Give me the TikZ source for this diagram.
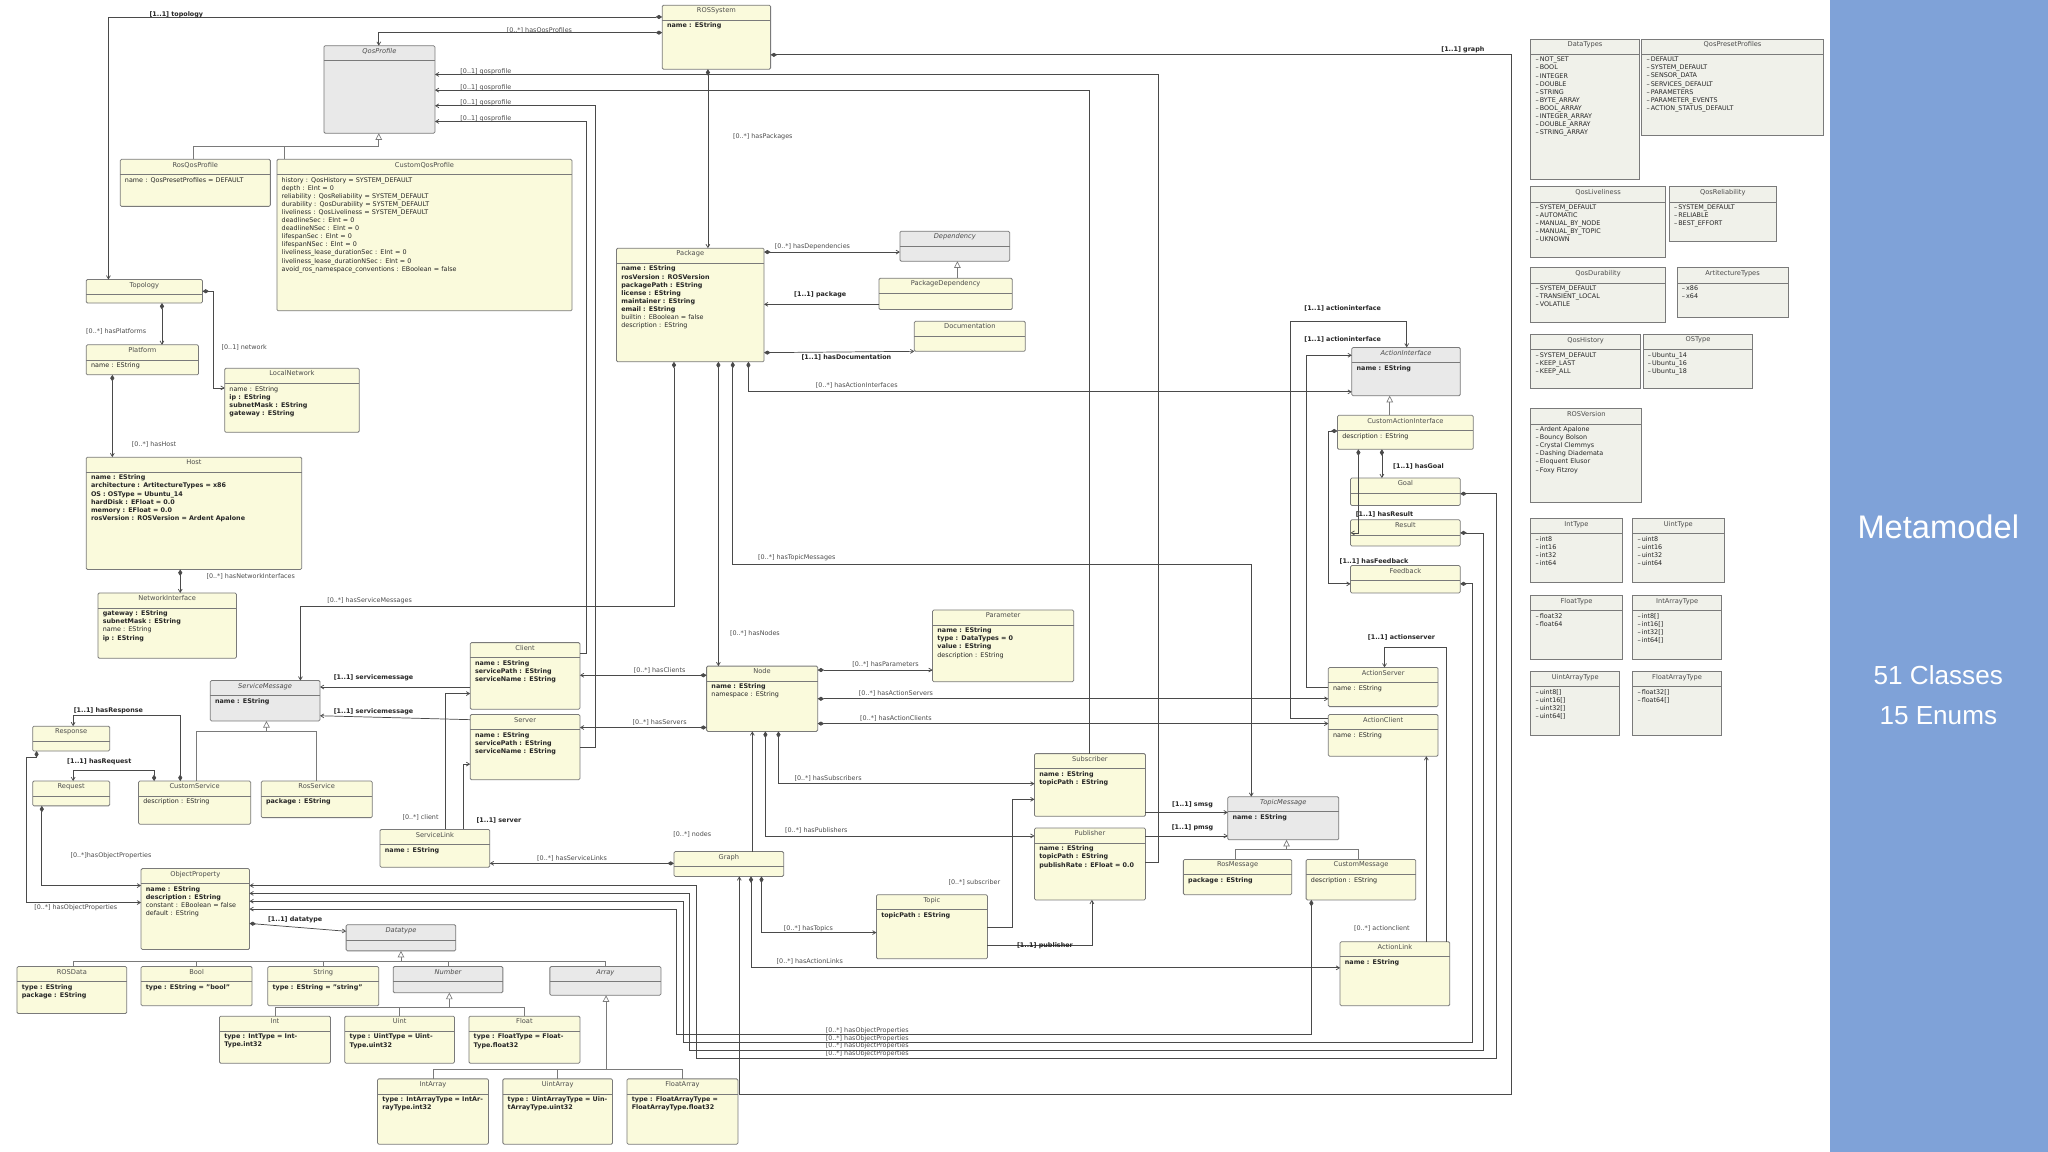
\documentclass[tikz,border=0pt]{standalone}
\usepackage{fontspec}
\setmainfont{DejaVu Sans}
\newfontfamily\panelfont{Liberation Sans}
\usetikzlibrary{arrows.meta}
\definecolor{boxfill}{HTML}{FAFADC}
\definecolor{absfill}{HTML}{E9E9E9}
\definecolor{enumfill}{HTML}{F0F1EA}
\definecolor{edge}{HTML}{7A7A7A}
\definecolor{wire}{HTML}{4A4A4A}
\definecolor{panel}{HTML}{7FA2D8}
\tikzset{
 cls/.style={draw=edge,fill=boxfill,rounded corners=1pt,line width=0.6pt,inner sep=0,outer sep=0},
 abs/.style={cls,fill=absfill},
 enm/.style={cls,fill=enumfill,rounded corners=0pt},
 hdr/.style={draw=edge,line width=0.4pt},
 ttl/.style={font=\fontsize{5.1}{6}\selectfont,text=black!70,inner sep=1.8pt},
 att/.style={font=\fontsize{4.9}{6.2}\selectfont,align=left,inner sep=0.5pt,text=black!85},
 w/.style={draw=wire,line width=0.55pt},
 comp/.style={w,{Diamond[length=5pt,width=3.2pt]}-{Straight Barb[length=2.5pt,width=3pt]}},
 ref/.style={w,-{Straight Barb[length=2.5pt,width=3pt]}},
 gen/.style={draw=edge,line width=0.5pt,-{Triangle[open,length=5pt,width=5pt,fill=white]}},
 genl/.style={draw=edge,line width=0.5pt},
 lbl/.style={font=\fontsize{4.9}{5.5}\selectfont,text=black!70,inner sep=0.5pt},
 lblb/.style={lbl,font=\fontsize{4.9}{5.5}\selectfont\bfseries,text=black!85},
}
\newcommand\clsbox[8][cls]{%
 \pgfmathsetmacro\bw{#5-#3}\pgfmathsetmacro\bh{#6-#4}\pgfmathsetmacro\tw{#5-#3-6}%
 \node[#1,minimum width=\bw pt,minimum height=\bh pt,anchor=north west] (#2) at (#3,#4) {};
 \draw[hdr] ([yshift=-11.5pt]#2.north west) -- ([yshift=-11.5pt]#2.north east);
 \node[ttl,anchor=north] (#2-t) at (#2.north) {#7};
 \node[att,anchor=north west,text width=\tw pt] (#2-a) at ([xshift=3pt,yshift=-13pt]#2.north west) {#8};}
\newcommand\lab[4]{\node[lbl] (#1) at (#2,#3) {#4};}
\newcommand\labb[4]{\node[lblb] (#1) at (#2,#3) {#4};}
\newcommand\B[1]{\textbf{#1}}
\newcommand\E{--\,}
\begin{document}
\begin{tikzpicture}[x=1pt,y=-1pt]
\useasboundingbox (0,0) rectangle (1568,882);
\fill[white] (0,0) rectangle (1568,882);
% ---------- classes ----------
\clsbox{ROSSystem}{507}{4}{590}{53}{ROSSystem}{\B{name : EString}}
\clsbox[abs]{QosProfile}{248}{35}{333}{102}{\itshape QosProfile}{}
\clsbox{RosQosProfile}{92}{122}{207}{158}{RosQosProfile}{name : QosPresetProfiles = DEFAULT}
\clsbox{CustomQosProfile}{212}{122}{438}{238}{CustomQosProfile}{history : QosHistory = SYSTEM\_DEFAULT\\depth : EInt = 0\\reliability : QosReliability = SYSTEM\_DEFAULT\\durability : QosDurability = SYSTEM\_DEFAULT\\liveliness : QosLiveliness = SYSTEM\_DEFAULT\\deadlineSec : EInt = 0\\deadlineNSec : EInt = 0\\lifespanSec : EInt = 0\\lifespanNSec : EInt = 0\\liveliness\_lease\_durationSec : EInt = 0\\liveliness\_lease\_durationNSec : EInt = 0\\avoid\_ros\_namespace\_conventions : EBoolean = false}
\clsbox{Topology}{66}{214}{155}{232}{Topology}{}
\clsbox{Platform}{66}{264}{152}{287}{Platform}{name : EString}
\clsbox{LocalNetwork}{172}{282}{275}{331}{LocalNetwork}{name : EString\\\B{ip : EString}\\\B{subnetMask : EString}\\\B{gateway : EString}}
\clsbox{Host}{66}{350}{231}{436}{Host}{\B{name : EString}\\\B{architecture : ArtitectureTypes = x86}\\\B{OS : OSType = Ubuntu\_14}\\\B{hardDisk : EFloat = 0.0}\\\B{memory : EFloat = 0.0}\\\B{rosVersion : ROSVersion = Ardent Apalone}}
\clsbox{NetworkInterface}{75}{454}{181}{504}{NetworkInterface}{\B{gateway : EString}\\\B{subnetMask : EString}\\name : EString\\\B{ip : EString}}
\clsbox{Package}{472}{190}{585}{277}{Package}{\B{name : EString}\\\B{rosVersion : ROSVersion}\\\B{packagePath : EString}\\\B{license : EString}\\\B{maintainer : EString}\\\B{email : EString}\\builtin : EBoolean = false\\description : EString}
\clsbox[abs]{Dependency}{689}{177}{773}{200}{\itshape Dependency}{}
\clsbox{PackageDependency}{673}{213}{775}{237}{PackageDependency}{}
\clsbox{Documentation}{700}{246}{785}{269}{Documentation}{}
\clsbox[abs]{ActionInterface}{1035}{266}{1118}{303}{\itshape ActionInterface}{\B{name : EString}}
\clsbox{CustomActionInterface}{1024}{318}{1128}{344}{CustomActionInterface}{description : EString}
\clsbox{Goal}{1034}{366}{1118}{387}{Goal}{}
\clsbox{Result}{1034}{398}{1118}{418}{Result}{}
\clsbox{Feedback}{1034}{433}{1118}{454}{Feedback}{}
\clsbox{Parameter}{714}{467}{822}{522}{Parameter}{\B{name : EString}\\\B{type : DataTypes = 0}\\\B{value : EString}\\description : EString}
\clsbox{Client}{360}{492}{444}{543}{Client}{\B{name : EString}\\\B{servicePath : EString}\\\B{serviceName : EString}}
\clsbox{Server}{360}{547}{444}{597}{Server}{\B{name : EString}\\\B{servicePath : EString}\\\B{serviceName : EString}}
\clsbox[abs]{ServiceMessage}{161}{521}{245}{552}{\itshape ServiceMessage}{\B{name : EString}}
\clsbox{Node}{541}{510}{626}{560}{Node}{\B{name : EString}\\namespace : EString}
\clsbox{Response}{25}{556}{84}{575}{Response}{}
\clsbox{Request}{25}{598}{84}{617}{Request}{}
\clsbox{CustomService}{106}{598}{192}{631}{CustomService}{description : EString}
\clsbox{RosService}{200}{598}{285}{626}{RosService}{\B{package : EString}}
\clsbox{ServiceLink}{291}{635}{375}{664}{ServiceLink}{\B{name : EString}}
\clsbox{Graph}{516}{652}{600}{671}{Graph}{}
\clsbox{Subscriber}{792}{577}{877}{625}{Subscriber}{\B{name : EString}\\\B{topicPath : EString}}
\clsbox{Publisher}{792}{634}{877}{689}{Publisher}{\B{name : EString}\\\B{topicPath : EString}\\\B{publishRate : EFloat = 0.0}}
\clsbox[abs]{TopicMessage}{940}{610}{1025}{643}{\itshape TopicMessage}{\B{name : EString}}
\clsbox{RosMessage}{906}{658}{989}{685}{RosMessage}{\B{package : EString}}
\clsbox{CustomMessage}{1000}{658}{1084}{689}{CustomMessage}{description : EString}
\clsbox{ActionServer}{1017}{511}{1101}{541}{ActionServer}{name : EString}
\clsbox{ActionClient}{1017}{547}{1101}{579}{ActionClient}{name : EString}
\clsbox{Topic}{671}{685}{756}{734}{Topic}{\B{topicPath : EString}}
\clsbox{ActionLink}{1026}{721}{1110}{770}{ActionLink}{\B{name : EString}}
\clsbox{ObjectProperty}{108}{665}{191}{727}{ObjectProperty}{\B{name : EString}\\\B{description : EString}\\constant : EBoolean = false\\default : EString}
\clsbox[abs]{Datatype}{265}{708}{349}{728}{\itshape Datatype}{}
\clsbox{ROSData}{13}{740}{97}{776}{ROSData}{\B{type : EString}\\\B{package : EString}}
\clsbox{Bool}{108}{740}{193}{770}{Bool}{\B{type : EString = "bool"}}
\clsbox{String}{205}{740}{290}{770}{String}{\B{type : EString = "string"}}
\clsbox[abs]{Number}{301}{740}{385}{760}{\itshape Number}{}
\clsbox[abs]{Array}{421}{740}{506}{762}{\itshape Array}{}
\clsbox{Int}{168}{778}{253}{814}{Int}{\B{type : IntType = IntType.int32}}
\clsbox{Uint}{264}{778}{348}{814}{Uint}{\B{type : UintType = UintType.uint32}}
\clsbox{Float}{359}{778}{444}{814}{Float}{\B{type : FloatType = FloatType.float32}}
\clsbox{IntArray}{289}{826}{374}{876}{IntArray}{\B{type : IntArrayType = IntArrayType.int32}}
\clsbox{UintArray}{385}{826}{469}{876}{UintArray}{\B{type : UintArrayType = UintArrayType.uint32}}
\clsbox{FloatArray}{480}{826}{565}{876}{FloatArray}{\B{type : FloatArrayType = FloatArrayType.float32}}
% ---------- enums ----------
\clsbox[enm]{DataTypes}{1172}{30}{1255}{137}{DataTypes}{\E NOT\_SET\\\E BOOL\\\E INTEGER\\\E DOUBLE\\\E STRING\\\E BYTE\_ARRAY\\\E BOOL\_ARRAY\\\E INTEGER\_ARRAY\\\E DOUBLE\_ARRAY\\\E STRING\_ARRAY}
\clsbox[enm]{QosPresetProfiles}{1257}{30}{1396}{104}{QosPresetProfiles}{\E DEFAULT\\\E SYSTEM\_DEFAULT\\\E SENSOR\_DATA\\\E SERVICES\_DEFAULT\\\E PARAMETERS\\\E PARAMETER\_EVENTS\\\E ACTION\_STATUS\_DEFAULT}
\clsbox[enm]{QosLiveliness}{1172}{143}{1275}{197}{QosLiveliness}{\E SYSTEM\_DEFAULT\\\E AUTOMATIC\\\E MANUAL\_BY\_NODE\\\E MANUAL\_BY\_TOPIC\\\E UKNOWN}
\clsbox[enm]{QosReliability}{1278}{143}{1360}{185}{QosReliability}{\E SYSTEM\_DEFAULT\\\E RELIABLE\\\E BEST\_EFFORT}
\clsbox[enm]{QosDurability}{1172}{205}{1275}{247}{QosDurability}{\E SYSTEM\_DEFAULT\\\E TRANSIENT\_LOCAL\\\E VOLATILE}
\clsbox[enm]{ArtitectureTypes}{1284}{205}{1369}{243}{ArtitectureTypes}{\E x86\\\E x64}
\clsbox[enm]{QosHistory}{1172}{256}{1256}{297}{QosHistory}{\E SYSTEM\_DEFAULT\\\E KEEP\_LAST\\\E KEEP\_ALL}
\clsbox[enm]{OSType}{1258}{256}{1342}{297}{OSType}{\E Ubuntu\_14\\\E Ubuntu\_16\\\E Ubuntu\_18}
\clsbox[enm]{ROSVersion}{1172}{313}{1257}{385}{ROSVersion}{\E Ardent Apalone\\\E Bouncy Bolson\\\E Crystal Clemmys\\\E Dashing Diademata\\\E Eloquent Elusor\\\E Foxy Fitzroy}
\clsbox[enm]{IntType}{1172}{397}{1242}{446}{IntType}{\E int8\\\E int16\\\E int32\\\E int64}
\clsbox[enm]{UintType}{1250}{397}{1320}{446}{UintType}{\E uint8\\\E uint16\\\E uint32\\\E uint64}
\clsbox[enm]{FloatType}{1172}{456}{1242}{505}{FloatType}{\E float32\\\E float64}
\clsbox[enm]{IntArrayType}{1250}{456}{1318}{505}{IntArrayType}{\E int8[]\\\E int16[]\\\E int32[]\\\E int64[]}
\clsbox[enm]{UintArrayType}{1172}{514}{1240}{563}{UintArrayType}{\E uint8[]\\\E uint16[]\\\E uint32[]\\\E uint64[]}
\clsbox[enm]{FloatArrayType}{1250}{514}{1318}{563}{FloatArrayType}{\E float32[]\\\E float64[]}
% ---------- generalizations ----------
\draw[gen] (RosQosProfile.north -| 148,0) -- (148,112) -- (290,112) -- (QosProfile.south -| 290,0);
\draw[genl] (CustomQosProfile.north -| 218,0) -- (218,112);
\draw[gen] (PackageDependency.north -| 733,0) -- (Dependency.south -| 733,0);
\draw[gen] (CustomActionInterface.north -| 1064,0) -- (ActionInterface.south -| 1064,0);
\draw[gen] (RosMessage.north -| 946,0) -- (946,650) -- (985,650) -- (TopicMessage.south -| 985,0);
\draw[genl] (CustomMessage.north -| 1040,0) -- (1040,650) -- (985,650);
\draw[gen] (CustomService.north -| 150,0) -- (150,560) -- (204,560) -- (ServiceMessage.south -| 204,0);
\draw[genl] (RosService.north -| 242,0) -- (242,560) -- (204,560);
\draw[gen] (ROSData.north -| 56,0) -- (56,736) -- (307,736) -- (Datatype.south -| 307,0);
\draw[genl] (Bool.north) -- (Bool.north |- 0,736);
\draw[genl] (String.north) -- (String.north |- 0,736);
\draw[genl] (Number.north) -- (Number.north |- 0,736);
\draw[genl] (Array.north) -- (Array.north |- 0,736) -- (307,736);
\draw[gen] (Int.north) -- (Int.north |- 0,771) -- (344,771) -- (Number.south -| 344,0);
\draw[genl] (Uint.north) -- (Uint.north |- 0,771);
\draw[genl] (Float.north) -- (Float.north |- 0,771) -- (344,771);
\draw[gen] (IntArray.north) -- (IntArray.north |- 0,819) -- (464,819) -- (Array.south -| 464,0);
\draw[genl] (UintArray.north) -- (UintArray.north |- 0,819);
\draw[genl] (FloatArray.north) -- (FloatArray.north |- 0,819) -- (464,819);
% ---------- associations ----------
\draw[comp] (ROSSystem.west |- 0,13) -| (Topology.north -| 83,0);
\labb{l1}{135}{11}{[1..1] topology}
\draw[comp] (ROSSystem.west |- 0,25) -| (QosProfile.north -| 290,0);
\lab{l2}{413}{23}{[0..*] hasQosProfiles}
\draw[comp] (ROSSystem.east |- 0,42) -- (1157,42) -- (1157,838) -- (566,838) -- (Graph.south -| 566,0);
\labb{l3}{1120}{38}{[1..1] graph}
\draw[comp] (ROSSystem.south -| 542,0) -- (Package.north -| 542,0);
\lab{l4}{584}{105}{[0..*] hasPackages}
\draw[ref] (Publisher.east |- 0,660) -- (887,660) -- (887,57) -- (QosProfile.east |- 0,57);
\draw[ref] (Subscriber.north -| 834,0) -- (834,69) -- (QosProfile.east |- 0,69);
\draw[ref] (Server.east |- 0,572) -- (456,572) -- (456,81) -- (QosProfile.east |- 0,81);
\draw[ref] (Client.east |- 0,500) -- (449,500) -- (449,93) -- (QosProfile.east |- 0,93);
\lab{l5}{372}{55}{[0..1] qosprofile}
\lab{l6}{372}{67}{[0..1] qosprofile}
\lab{l7}{372}{79}{[0..1] qosprofile}
\lab{l8}{372}{91}{[0..1] qosprofile}
\draw[comp] (Package.east |- 0,193) -- (Dependency.west |- 0,193);
\lab{l9}{622}{189}{[0..*] hasDependencies}
\draw[ref] (PackageDependency.west |- 0,233) -- (Package.east |- 0,233);
\labb{l10}{628}{226}{[1..1] package}
\draw[comp] (Package.east |- 0,270) -- (Documentation.south west);
\labb{l11}{648}{274}{[1..1] hasDocumentation}
\draw[comp] (Package.south -| 573,0) |- (ActionInterface.west |- 0,300);
\lab{l12}{656}{295}{[0..*] hasActionInterfaces}
\draw[comp] (Package.south -| 516,0) -- (516,464) -| (ServiceMessage.north -| 230,0);
\lab{l13}{283}{460}{[0..*] hasServiceMessages}
\draw[comp] (Package.south -| 550,0) -- (Node.north -| 550,0);
\lab{l14}{578}{485}{[0..*] hasNodes}
\draw[comp] (Package.south -| 561,0) -- (561,432) -| (TopicMessage.north -| 958,0);
\lab{l15}{610}{427}{[0..*] hasTopicMessages}
\draw[comp] (Topology.south -| 124,0) -- (Platform.north -| 124,0);
\lab{l16}{89}{254}{[0..*] hasPlatforms}
\draw[comp] (Topology.east) -- (163,223) |- (LocalNetwork.west |- 0,297);
\lab{l17}{187}{266}{[0..1] network}
\draw[comp] (Platform.south -| 86,0) -- (Host.north -| 86,0);
\lab{l18}{118}{340}{[0..*] hasHost}
\draw[comp] (Host.south -| 138,0) -- (NetworkInterface.north -| 138,0);
\lab{l19}{192}{441}{[0..*] hasNetworkInterfaces}
\draw[ref] (Client.west |- 0,526) -- (ServiceMessage.east |- 0,526);
\labb{l20}{286}{519}{[1..1] servicemessage}
\draw[ref] (Server.west |- 0,551) -- (ServiceMessage.east |- 0,548);
\labb{l21}{286}{545}{[1..1] servicemessage}
\draw[comp] (Node.west |- 0,517) -- (Client.east |- 0,517);
\lab{l22}{505}{513}{[0..*] hasClients}
\draw[comp] (Node.west |- 0,557) -- (Server.east |- 0,557);
\lab{l23}{505}{553}{[0..*] hasServers}
\draw[comp] (Node.east |- 0,513) -- (Parameter.west |- 0,513);
\lab{l24}{678}{509}{[0..*] hasParameters}
\draw[comp] (Node.east |- 0,535) -- (ActionServer.west |- 0,535);
\lab{l25}{686}{531}{[0..*] hasActionServers}
\draw[comp] (Node.east |- 0,554) -- (ActionClient.west |- 0,554);
\lab{l26}{686}{550}{[0..*] hasActionClients}
\draw[comp] (Node.south -| 596,0) |- (Subscriber.west |- 0,600);
\lab{l27}{634}{596}{[0..*] hasSubscribers}
\draw[comp] (Node.south -| 586,0) |- (Publisher.west |- 0,640);
\lab{l28}{625}{636}{[0..*] hasPublishers}
\draw[ref] (Graph.north -| 576,0) -- (Node.south -| 576,0);
\lab{l29}{530}{639}{[0..*] nodes}
\draw[comp] (Graph.west |- 0,661) -- (ServiceLink.east |- 0,661);
\lab{l30}{438}{657}{[0..*] hasServiceLinks}
\draw[ref] (ServiceLink.north -| 341,0) |- (Client.west |- 0,531);
\lab{l31}{322}{626}{[0..*] client}
\draw[ref] (ServiceLink.north -| 355,0) |- (Server.west |- 0,585);
\labb{l32}{382}{628}{[1..1] server}
\draw[comp] (Graph.south -| 583,0) |- (Topic.west |- 0,714);
\lab{l33}{619}{711}{[0..*] hasTopics}
\draw[comp] (Graph.south -| 575,0) |- (ActionLink.west |- 0,741);
\lab{l34}{620}{736}{[0..*] hasActionLinks}
\draw[ref] (Topic.east |- 0,710) -- (775,710) |- (Subscriber.west |- 0,612);
\lab{l35}{746}{676}{[0..*] subscriber}
\draw[ref] (Topic.east |- 0,724) -| (Publisher.south -| 836,0);
\labb{l36}{800}{724}{[1..1] publisher}
\draw[ref] (Subscriber.east |- 0,622) -- (TopicMessage.west |- 0,622);
\labb{l37}{913}{616}{[1..1] smsg}
\draw[ref] (Publisher.east |- 0,640) -- (TopicMessage.west |- 0,640);
\labb{l38}{913}{634}{[1..1] pmsg}
\draw[ref] (ActionServer.west |- 0,526) -- (1000,526) -- (1000,272) -- (ActionInterface.west |- 0,272);
\draw[ref] (ActionClient.west |- 0,550) -- (988,550) -- (988,246) -- (1077,246) -- (ActionInterface.north -| 1077,0);
\labb{l39}{1028}{236}{[1..1] actioninterface}
\labb{l40}{1028}{260}{[1..1] actioninterface}
\draw[comp] (CustomActionInterface.south -| 1058,0) -- (Goal.north -| 1058,0);
\labb{l41}{1086}{357}{[1..1] hasGoal}
\draw[comp] (CustomActionInterface.south -| 1040,0) |- (Result.west |- 0,408);
\labb{l42}{1060}{394}{[1..1] hasResult}
\draw[comp] (CustomActionInterface.west |- 0,330) -- (1017,330) |- (Feedback.west |- 0,447);
\labb{l43}{1052}{430}{[1..1] hasFeedback}
\draw[comp] (Goal.east |- 0,378) -- (1146,378) -- (1146,810) -- (533,810) -- (533,678) -- (ObjectProperty.east |- 0,678);
\draw[comp] (Result.east |- 0,408) -- (1136,408) -- (1136,804) -- (528,804) -- (528,684) -- (ObjectProperty.east |- 0,684);
\draw[comp] (Feedback.east |- 0,447) -- (1127,447) -- (1127,798) -- (523,798) -- (523,690) -- (ObjectProperty.east |- 0,690);
\draw[comp] (CustomMessage.south -| 1004,0) -- (1004,792) -- (518,792) -- (518,696) -- (ObjectProperty.east |- 0,696);
\lab{l44}{664}{789}{[0..*] hasObjectProperties}
\lab{l45}{664}{795}{[0..*] hasObjectProperties}
\lab{l46}{664}{801}{[0..*] hasObjectProperties}
\lab{l47}{664}{807}{[0..*] hasObjectProperties}
\draw[comp] (Request.south -| 32,0) |- (ObjectProperty.west |- 0,678);
\lab{l48}{85}{655}{[0..*]hasObjectProperties}
\draw[comp] (Response.south -| 28,0) -- (28,580) -- (20,580) |- (ObjectProperty.west |- 0,691);
\lab{l49}{58}{695}{[0..*] hasObjectProperties}
\draw[comp] (CustomService.north -| 138,0) -- (138,548) -| (Response.north -| 56,0);
\labb{l50}{83}{544}{[1..1] hasResponse}
\draw[comp] (CustomService.north -| 118,0) -- (118,590) -| (Request.north -| 56,0);
\labb{l51}{76}{583}{[1..1] hasRequest}
\draw[comp] (ObjectProperty.east |- 0,707) -- (Datatype.west |- 0,713);
\labb{l52}{226}{704}{[1..1] datatype}
\draw[ref] (ActionLink.north -| 1092,0) -- (ActionClient.south -| 1092,0);
\lab{l53}{1058}{711}{[0..*] actionclient}
\draw[ref] (ActionLink.north -| 1107,0) -- (1107,496) -| (ActionServer.north -| 1060,0);
\labb{l54}{1073}{488}{[1..1] actionserver}
% ---------- side panel ----------
\fill[panel] (1401,0) rectangle (1568,882);
\node[font=\panelfont\fontsize{25}{28}\selectfont,text=white] (p1) at (1484,403) {Metamodel};
\node[font=\panelfont\fontsize{20}{22}\selectfont,text=white] (p2) at (1484,517) {51 Classes};
\node[font=\panelfont\fontsize{20}{22}\selectfont,text=white] (p3) at (1484,548) {15 Enums};
\end{tikzpicture}
\end{document}
